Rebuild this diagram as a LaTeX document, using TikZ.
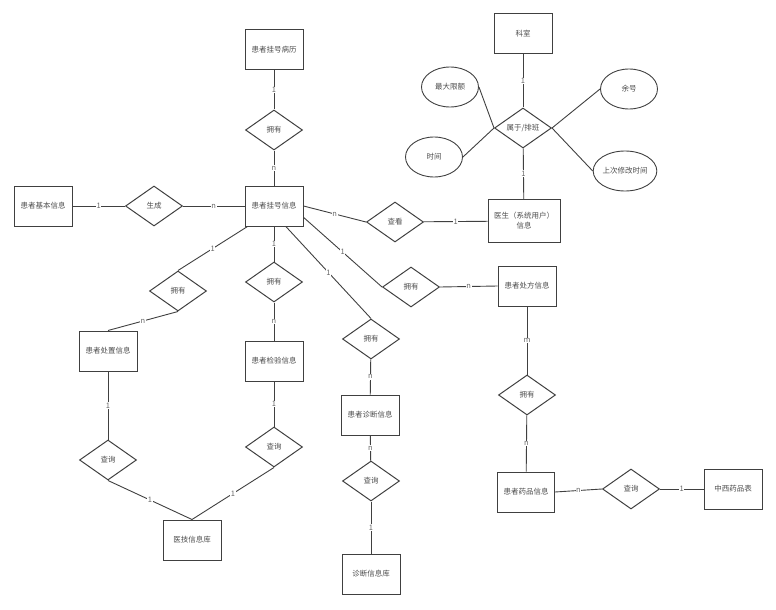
\documentclass[tikz,border=0pt]{standalone}
\usepackage{fontspec}
\setmainfont{Noto Sans CJK SC}
\usetikzlibrary{shapes.geometric}

\begin{document}
\begin{tikzpicture}[x=1pt, y=-1pt,
  every node/.style={text=black!70, font=\fontsize{7.5}{10}\selectfont},
  entity/.style={draw=black!75, line width=1pt, rectangle, minimum width=58pt, minimum height=40pt, inner sep=1pt},
  relation/.style={draw=black!75, line width=1pt, diamond, minimum width=57pt, minimum height=40pt, inner sep=0pt},
  attr/.style={draw=black!75, line width=0.9pt, ellipse, minimum width=57pt, minimum height=40pt, inner sep=0pt},
  link/.style={draw=black!75, line width=0.9pt},
  card/.style={midway, fill=white, inner sep=0.6pt, text=black!60, font=\fontsize{7.5}{8}\selectfont}]
\useasboundingbox (0,0) rectangle (776,610);

% Entities
\node[entity] (rec) at (274,50) {患者挂号病历};
\node[entity] (reg) at (274,206) {患者挂号信息};
\node[entity] (basic) at (43,206) {患者基本信息};
\node[entity, minimum width=72pt, minimum height=43pt, align=center] (doc) at (524,221) {医生（系统用户）\\信息};
\node[entity] (dept) at (523,34) {科室};
\node[entity] (disp) at (108,351) {患者处置信息};
\node[entity] (test) at (274,361) {患者检验信息};
\node[entity] (lab) at (192,540) {医技信息库};
\node[entity] (diag) at (370,415) {患者诊断信息};
\node[entity] (diaglib) at (371,574) {诊断信息库};
\node[entity] (pres) at (527,286) {患者处方信息};
\node[entity, minimum width=57pt] (drug) at (526,492) {患者药品信息};
\node[entity] (drugtab) at (733,489) {中西药品表};

% Relations
\node[relation] (hasRec) at (274,130) {拥有};
\node[relation] (gen) at (154,206) {生成};
\node[relation] (see) at (395,222) {查看};
\node[relation, label=center:属于/排班] (belong) at (523,128) {};
\node[relation] (hasDisp) at (178,291) {拥有};
\node[relation] (hasTest) at (274,282) {拥有};
\node[relation] (qDisp) at (108,460) {查询};
\node[relation] (qTest) at (274,447) {查询};
\node[relation] (hasDiag) at (371,339) {拥有};
\node[relation] (qDiag) at (371,481) {查询};
\node[relation] (hasPre) at (411,287) {拥有};
\node[relation] (hasDrug) at (527,395) {拥有};
\node[relation] (qDrug) at (631,489) {查询};

% Attributes
\node[attr] (maxq) at (450,87) {最大限额};
\node[attr] (tm) at (434,157) {时间};
\node[attr] (rest) at (629,89) {余号};
\node[attr] (mtime) at (625,171) {上次修改时间};

% Links
\draw[link] (rec) -- (hasRec) node[card] {1};
\draw[link] (hasRec) -- (reg) node[card] {n};
\draw[link] (basic) -- (gen) node[card] {1};
\draw[link] (gen) -- (reg) node[card] {n};
\draw[link] (reg.east) -- (see.west) node[card] {n};
\draw[link] (see) -- (doc) node[card] {1};
\draw[link] (dept) -- (belong) node[card] {1};
\draw[link] (belong) -- (doc) node[card] {1};
\draw[link] (maxq.east) -- (belong.west);
\draw[link] (tm.east) -- (belong.west);
\draw[link] (rest.west) -- (belong.east);
\draw[link] (mtime.west) -- (belong.east);

\draw[link] ([xshift=3pt]reg.south west) -- (hasDisp.north) node[card] {1};
\draw[link] (hasDisp.south) -- (disp.north) node[card] {n};
\draw[link] (disp) -- (qDisp) node[card] {1};
\draw[link] (qDisp.south) -- (lab.north) node[card] {1};
\draw[link] (reg) -- (hasTest) node[card] {1};
\draw[link] (hasTest) -- (test) node[card] {n};
\draw[link] (test) -- (qTest) node[card] {1};
\draw[link] (qTest.south) -- (lab.north) node[card] {1};

\draw[link] (reg.-60) -- (hasDiag.north) node[card] {1};
\draw[link] (hasDiag) -- (diag) node[card] {n};
\draw[link] (diag) -- (qDiag) node[card] {n};
\draw[link] (qDiag) -- (diaglib) node[card] {1};

\draw[link] (reg.-21) -- (hasPre.west) node[card] {1};
\draw[link] (hasPre.east) -- (pres.west) node[card] {n};
\draw[link] (pres) -- (hasDrug) node[card] {m};
\draw[link] (hasDrug) -- (drug) node[card] {n};
\draw[link] (drug.east) -- (qDrug.west) node[card] {n};
\draw[link] (qDrug) -- (drugtab) node[card] {1};
\end{tikzpicture}
\end{document}
